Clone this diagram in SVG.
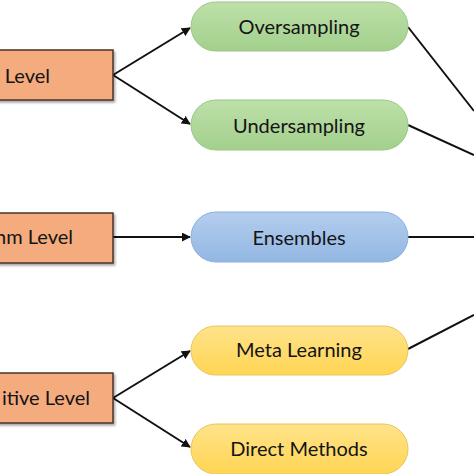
<svg xmlns="http://www.w3.org/2000/svg" width="474" height="474" viewBox="0 0 474 474">
<style>
.lvl{fill:#f4ab7e;stroke:#4a3326;stroke-width:1.5}
.t{font-family:Lato,"Open Sans","Liberation Sans",sans-serif;font-size:20px;fill:#141414}
.c{text-anchor:middle}
.e{text-anchor:end}
.conn{stroke:#111;stroke-width:2;fill:none}
.green{fill:url(#gG);stroke:#9cc788;stroke-width:1}
.blue{fill:url(#gB);stroke:#8db0dc;stroke-width:1}
.yellow{fill:url(#gY);stroke:#e6c65c;stroke-width:1}
</style>
<defs>
<linearGradient id="gG" x1="0" y1="0" x2="0" y2="1"><stop offset="0" stop-color="#bde0a9"/><stop offset="1" stop-color="#a3d08c"/></linearGradient>
<linearGradient id="gB" x1="0" y1="0" x2="0" y2="1"><stop offset="0" stop-color="#b3cdee"/><stop offset="1" stop-color="#93b7e3"/></linearGradient>
<linearGradient id="gY" x1="0" y1="0" x2="0" y2="1"><stop offset="0" stop-color="#ffe38a"/><stop offset="1" stop-color="#ffd554"/></linearGradient>
<marker id="ah" viewBox="0 0 10 10" refX="9" refY="5" markerWidth="4.5" markerHeight="4.5" orient="auto" markerUnits="strokeWidth">
<path d="M0,0 L10,5 L0,10 Z" fill="#111"/>
</marker>
<filter id="sh" x="-10%" y="-10%" width="130%" height="140%"><feDropShadow dx="1.5" dy="2" stdDeviation="1.2" flood-color="#000" flood-opacity="0.35"/></filter>
</defs>
<g id="connectors">
<line class="conn" x1="113" y1="75" x2="190" y2="28" marker-end="url(#ah)"/>
<line class="conn" x1="113" y1="75" x2="190" y2="124" marker-end="url(#ah)"/>
<line class="conn" x1="113" y1="237" x2="190" y2="237" marker-end="url(#ah)"/>
<line class="conn" x1="113" y1="398" x2="190" y2="351" marker-end="url(#ah)"/>
<line class="conn" x1="113" y1="398" x2="190" y2="447" marker-end="url(#ah)"/>
<line class="conn" x1="408" y1="27" x2="474" y2="111"/>
<line class="conn" x1="408" y1="125" x2="474" y2="155"/>
<line class="conn" x1="408" y1="237" x2="474" y2="237"/>
<line class="conn" x1="408" y1="349" x2="474" y2="315"/>
</g>
<g id="data-level">
<rect class="lvl" x="-10" y="50" width="123" height="50" filter="url(#sh)"/>
<text class="t e" x="50" y="83">Level</text>
</g>
<g id="algorithm-level">
<rect class="lvl" x="-10" y="213" width="123" height="50" filter="url(#sh)"/>
<text class="t e" x="73" y="244">hm Level</text>
</g>
<g id="cost-level">
<rect class="lvl" x="-10" y="373" width="123" height="50" filter="url(#sh)"/>
<text class="t e" x="90" y="405">itive Level</text>
</g>
<g id="oversampling">
<rect class="green" x="191" y="2" width="217" height="49" rx="24.5"/>
<text class="t c" x="299" y="34">Oversampling</text>
</g>
<g id="undersampling">
<rect class="green" x="191" y="100" width="217" height="50" rx="25"/>
<text class="t c" x="299" y="133">Undersampling</text>
</g>
<g id="ensembles">
<rect class="blue" x="191" y="212" width="217" height="50" rx="25"/>
<text class="t c" x="299" y="245">Ensembles</text>
</g>
<g id="meta-learning">
<rect class="yellow" x="191" y="326" width="217" height="49" rx="24.5"/>
<text class="t c" x="299" y="357">Meta Learning</text>
</g>
<g id="direct-methods">
<rect class="yellow" x="191" y="424" width="217" height="50" rx="25"/>
<text class="t c" x="299" y="456">Direct Methods</text>
</g>
</svg>
